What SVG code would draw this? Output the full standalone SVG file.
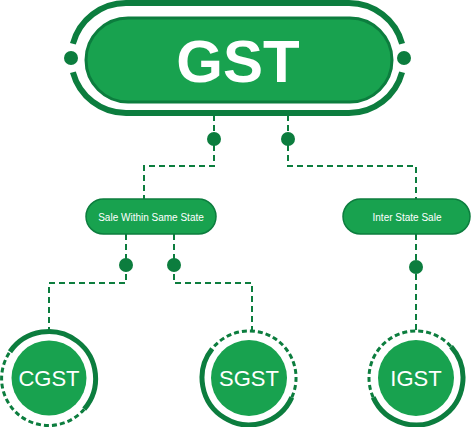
<svg xmlns="http://www.w3.org/2000/svg" width="474" height="427" viewBox="0 0 474 427">
<style>
.dk{fill:none;stroke:#0c7d3e}
.ring{fill:none;stroke:#0c7d3e;stroke-width:6}
.dash{fill:none;stroke:#0c7d3e;stroke-width:2;stroke-dasharray:6 4}
.dot{fill:#0c7d3e}
.pill{fill:#18a24f;stroke:#0c7d3e;stroke-width:1.5}
.solid{fill:none;stroke:#0c7d3e;stroke-width:5}
.dring{fill:none;stroke:#0c7d3e;stroke-width:3;stroke-dasharray:5 3}
.circ{fill:#18a24f}
.t{fill:#fff;font-family:"Liberation Sans",Arial,sans-serif;text-anchor:middle}
</style>
<rect width="474" height="427" fill="#fff"/>
<g id="connectors">
<path class="dash" d="M214 115 V166 H144 V199"/>
<path class="dash" d="M288 115 V166 H416 V199"/>
<path class="dash" d="M126 234 V283 H49 V330"/>
<path class="dash" d="M174 234 V283 H252 V331"/>
<path class="dash" d="M416 234 V331"/>
<circle class="dot" cx="214" cy="139" r="7"/>
<circle class="dot" cx="288" cy="139" r="7"/>
<circle class="dot" cx="126" cy="265" r="7"/>
<circle class="dot" cx="174" cy="265" r="7"/>
<circle class="dot" cx="416" cy="267" r="7"/>
</g>
<g id="gst">
<path class="ring" d="M72.9 43.8 A55 55 0 0 1 126 3 H349 A55 55 0 0 1 402.1 43.8"/>
<path class="ring" d="M402.1 72.2 A55 55 0 0 1 349 113 H126 A55 55 0 0 1 72.9 72.2"/>
<circle class="dot" cx="71" cy="58" r="7"/>
<circle class="dot" cx="404" cy="58" r="7"/>
<rect x="86" y="18" width="306" height="84" rx="42" fill="#18a24f" stroke="#0c7d3e" stroke-width="3"/>
<text class="t" x="238" y="82" font-size="60" font-weight="bold">GST</text>
</g>
<g id="sale-within">
<rect class="pill" x="86" y="199" width="130" height="35" rx="17.5"/>
<text class="t" x="151" y="220.5" font-size="10">Sale Within Same State</text>
</g>
<g id="inter-state">
<rect class="pill" x="343" y="199" width="127" height="35" rx="17.5"/>
<text class="t" x="407" y="220.5" font-size="10">Inter State Sale</text>
</g>
<g id="cgst">
<circle class="circ" cx="49" cy="378" r="37.5"/>
<path class="solid" d="M10 351.7 A47 47 0 1 1 84.2 409.2"/>
<path class="dring" d="M84.2 409.2 A47 47 0 0 1 10 351.7"/>
<text class="t" x="49" y="386" font-size="22">CGST</text>
</g>
<g id="sgst">
<circle class="circ" cx="249" cy="378" r="38"/>
<path class="solid" d="M212.2 348.7 A47 47 0 1 0 291.8 397.4"/>
<path class="dring" d="M291.8 397.4 A47 47 0 0 0 212.2 348.7"/>
<text class="t" x="249" y="386" font-size="22">SGST</text>
</g>
<g id="igst">
<circle class="circ" cx="416" cy="378" r="38"/>
<path class="solid" d="M451.1 346.7 A47 47 0 1 1 373.2 397.4"/>
<path class="dring" d="M373.2 397.4 A47 47 0 0 1 451.1 346.7"/>
<text class="t" x="416" y="386" font-size="22">IGST</text>
</g>
</svg>
